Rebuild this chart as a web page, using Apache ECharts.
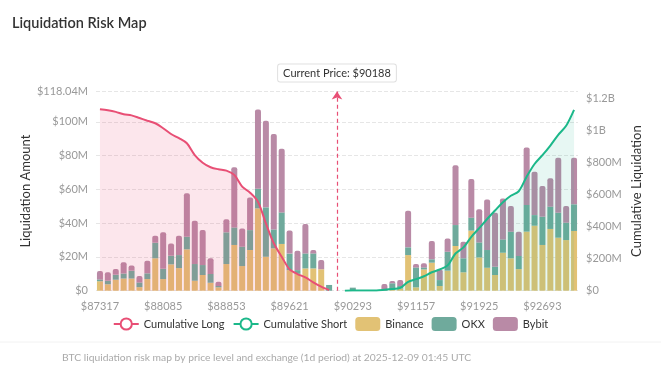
<!DOCTYPE html>
<html>
<head>
<meta charset="utf-8">
<script src="https://cdn.jsdelivr.net/npm/echarts@6/dist/echarts.min.js"></script>
<style>
html,body{margin:0;padding:0;background:#fff;}
#chart{width:661px;height:373px;}
</style>
</head>
<body>
<div id="chart"></div>
<script>
// Price-level categories (index 30 is the current price marker)
const categories = [
 '$87317','$87413','$87509','$87605','$87701','$87797','$87893','$87989','$88085','$88181',
 '$88277','$88373','$88469','$88565','$88661','$88757','$88853','$88949','$89045','$89141',
 '$89237','$89333','$89429','$89525','$89621','$89717','$89813','$89909','$90005','$90101',
 '$90188','$90197','$90293','$90389','$90485','$90581','$90677','$90773','$90869','$91061',
 '$91157','$91253','$91349','$91445','$91541','$91637','$91733','$91829','$91925','$92021',
 '$92117','$92213','$92309','$92405','$92501','$92597','$92693','$92789','$92885','$92981',
 '$93077'
];
const currentPrice = '$90188';

// Liquidation amounts per exchange, $M
const binance = [
 5.6,3.8,6.5,7.2,7.2,2.1,6.9,19.2,6.9,15.6,
 13.4,24.5,5.9,9.3,4.7,2.0,15.8,27.1,14.6,24.1,
 48.8,20.1,25.1,27.7,12.2,10.0,13.2,13.2,12.7,0,
 0,0,0,0,0,0,0,0.4,1.3,21.1,
 2.0,12.6,16.6,2.8,11.9,26.5,10.9,35.6,19.7,13.6,
 9.3,22.5,19.2,12.8,35.0,38.5,27.1,36.6,31.4,30.0,
 35.4
];
const okx = [
 1.1,2.1,2.9,3.0,4.6,2.8,3.4,9.2,6.1,5.1,
 7.7,7.5,9.9,5.9,5.2,0.8,18.8,10.4,11.5,11.8,
 11.6,29.3,11.2,18.7,9.8,2.2,8.9,8.9,0,3.4,
 0,0,1.8,0,0,0,0.8,4.0,1.5,4.6,
 11.8,1.2,2.0,3.5,11.2,12.4,8.3,7.7,8.9,10.5,
 4.9,7.9,15.8,7.8,15.8,6.3,16.7,13.2,14.8,10.3,
 15.8
];
const bybit = [
 5.0,5.0,3.4,6.6,3.1,3.8,7.4,4.2,21.6,7.3,
 11.5,25.7,25.7,20.7,9.3,2.5,7.7,35.6,10.8,19.4,
 47.0,51.3,56.5,37.7,13.6,11.5,17.4,2.0,5.5,0,
 0,0,0,0,0,0,3.2,1.3,3.5,21.7,
 2.0,2.4,10.8,6.3,7.9,35.4,9.8,22.9,19.6,30.0,
 32.0,24.3,15.2,14.4,34.1,25.7,18.2,16.8,32.6,9.9,
 27.6
];

// Cumulative liquidation, $M
const cumLong = [
 1131,1125,1115,1100,1093,1077,1060,1044,1013,977,
 951,919,846,798,770,757,749,722,649,611,
 555,420,296,212,133,104,83,52,25,4,
 null,null,null,null,null,null,null,null,null,null,
 null,null,null,null,null,null,null,null,null,null,
 null,null,null,null,null,null,null,null,null,null,
 null
];
const cumShort = [
 null,null,null,null,null,null,null,null,null,null,
 null,null,null,null,null,null,null,null,null,null,
 null,null,null,null,null,null,null,null,null,null,
 null,0,2,2,2,2,6,11,18,55,
 72,90,115,132,158,232,270,336,390,447,
 500,552,592,620,711,790,845,905,972,1028,
 1127
];

const leftMax = 118.04;
const rightMax = 1242;

const FONT = 'Lato, "Noto Sans", sans-serif';
const C_LONG = '#e84f75';
const C_SHORT = '#1cb88a';
const C_BIN = '#e2c275';
const C_OKX = '#6faa9c';
const C_BYB = '#b98aa6';

const chart = echarts.init(document.getElementById('chart'));
chart.setOption({
  animation: false,
  backgroundColor: '#fff',
  textStyle: { fontFamily: FONT },
  title: {
    text: 'Liquidation Risk Map',
    left: 7, top: 11,
    textStyle: { fontFamily: FONT, fontSize: 14.5, fontWeight: 600, color: '#333' }
  },
  legend: {
    data: ['Cumulative Long','Cumulative Short','Binance','OKX','Bybit'],
    left: 'center', top: 312,
    itemWidth: 25, itemHeight: 14, itemGap: 8,
    textStyle: { fontFamily: FONT, fontSize: 11, color: '#333' }
  },
  grid: { left: 96, right: 83, top: 91.5, bottom: 82.3 },
  xAxis: {
    type: 'category',
    data: categories,
    axisLine: { show: false },
    axisTick: { show: false },
    axisLabel: { interval: 7, color: '#999', fontSize: 11, fontFamily: FONT, margin: 10 }
  },
  yAxis: [
    {
      type: 'value', min: 0, max: leftMax, interval: 20,
      name: 'Liquidation Amount', nameLocation: 'middle', nameGap: 64,
      nameMoveOverlap: false,
      nameTextStyle: { color: '#333', fontSize: 13, fontFamily: FONT },
      axisLine: { show: false }, axisTick: { show: false },
      axisLabel: { color: '#999', fontSize: 11, fontFamily: FONT,
        formatter: v => v === 0 ? '$0' : '$' + (+v.toFixed(2)) + 'M' },
      splitLine: { lineStyle: { type: 'dashed', color: '#e6e6e6' } }
    },
    {
      type: 'value', min: 0, max: rightMax, interval: 200,
      name: 'Cumulative Liquidation', nameLocation: 'middle', nameGap: 52,
      nameMoveOverlap: false,
      nameTextStyle: { color: '#333', fontSize: 13, fontFamily: FONT },
      axisLine: { show: false }, axisTick: { show: false },
      axisLabel: { color: '#999', fontSize: 11, fontFamily: FONT, showMaxLabel: false,
        formatter: v => v === 0 ? '$0' : (v >= 1000 ? '$' + (+(v/1000).toFixed(2)) + 'B' : '$' + v + 'M') },
      splitLine: { show: false }
    }
  ],
  series: [
    { name: 'Binance', type: 'bar', stack: 'ex', data: binance, barWidth: 6,
      itemStyle: { color: C_BIN } },
    { name: 'OKX', type: 'bar', stack: 'ex', data: okx, barWidth: 6,
      itemStyle: { color: C_OKX } },
    { name: 'Bybit', type: 'bar', stack: 'ex', data: bybit, barWidth: 6,
      itemStyle: { color: C_BYB, borderRadius: [2,2,0,0] } },
    { name: 'Cumulative Long', type: 'line', yAxisIndex: 1, data: cumLong,
      smooth: 0.3, showSymbol: false, symbol: 'emptyCircle',
      lineStyle: { color: C_LONG, width: 2 }, itemStyle: { color: C_LONG },
      areaStyle: { color: 'rgba(232,79,117,0.2)' },
      markLine: {
        silent: true,
        symbol: ['none','arrow'], symbolSize: [8, 8],
        lineStyle: { color: C_LONG, type: [4, 3], width: 1.2, opacity: 1 },
        label: {
          show: true, position: 'end', distance: 10,
          formatter: 'Current Price: ' + currentPrice,
          color: '#333', fontSize: 11, fontFamily: FONT,
          backgroundColor: '#fff', borderColor: '#e0e0e0', borderWidth: 1,
          padding: [3, 5], borderRadius: 2
        },
        data: [{ xAxis: currentPrice, lineStyle: { color: C_LONG } }]
      }
    },
    { name: 'Cumulative Short', type: 'line', yAxisIndex: 1, data: cumShort,
      smooth: 0.3, showSymbol: false, symbol: 'emptyCircle',
      lineStyle: { color: C_SHORT, width: 2 }, itemStyle: { color: C_SHORT },
      areaStyle: { color: 'rgba(28,184,138,0.15)' } }
  ],
  graphic: [
    { type: 'line', shape: { x1: 0, y1: 342, x2: 661, y2: 342 },
      style: { stroke: '#f2f2f2', lineWidth: 1 } },
    { type: 'text', left: 62, top: 353,
      style: { text: 'BTC liquidation risk map by price level and exchange (1d period) at 2025-12-09 01:45 UTC',
        fill: '#aaa', fontSize: 10.3, fontFamily: FONT } }
  ]
});
</script>
</body>
</html>
